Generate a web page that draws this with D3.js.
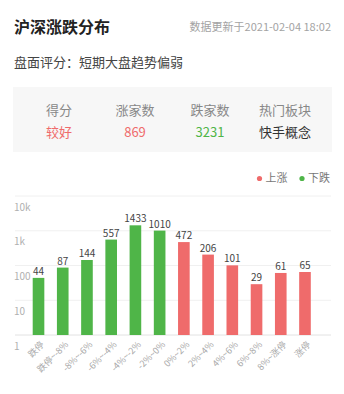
<!DOCTYPE html>
<html lang="zh">
<head>
<meta charset="utf-8"/>
<title>沪深涨跌分布</title>
<script src="https://d3js.org/d3.v7.min.js"></script>
<style>
  body { margin: 0; background: #fff; }
  svg { display: block; font-family: "Noto Sans CJK SC", "Noto Sans", sans-serif; }
</style>
</head>
<body>
<svg id="chart" width="344" height="394"></svg>
<script>
// data
var categories = ["跌停", "跌停~-8%", "-8%~-6%", "-6%~-4%", "-4%~-2%", "-2%~0%",
                  "0%~2%", "2%~4%", "4%~6%", "6%~8%", "8%~涨停", "涨停"];
var counts = [44, 87, 144, 557, 1433, 1010, 472, 206, 101, 29, 61, 65];
var trend = ["down", "down", "down", "down", "down", "down", "up", "up", "up", "up", "up", "up"];
var yTicks = [1, 10, 100, 1000, 10000];
var yTickLabels = ["1", "10", "100", "1k", "10k"];
var summaryHeads = ["得分", "涨家数", "跌家数", "热门板块"];
var summaryVals = ["较好", "869", "3231", "快手概念"];
var legendKeys = ["上涨", "下跌"];

var RED = "#ef6b6b", GREEN = "#4fb548";

var svg = d3.select("#chart");

// header
svg.append("text").attr("x", 14).attr("y", 33)
  .attr("font-size", 16).attr("font-weight", "bold").attr("fill", "#222")
  .text("沪深涨跌分布");
svg.append("text").attr("x", 331).attr("y", 31)
  .attr("font-size", 11).attr("fill", "#a3a3a3").attr("text-anchor", "end")
  .text("数据更新于2021-02-04 18:02");
svg.append("text").attr("x", 14).attr("y", 67)
  .attr("font-size", 13).attr("fill", "#444")
  .text("盘面评分：短期大盘趋势偏弱");

// summary box
svg.append("rect").attr("x", 13).attr("y", 87).attr("width", 319).attr("height", 65)
  .attr("fill", "#f7f7f7");
var colX = [59, 135, 210, 285];
var valColor = [RED, RED, GREEN, "#333"];
svg.selectAll(".head").data(summaryHeads).enter().append("text")
  .attr("x", function(d, i) { return colX[i]; }).attr("y", 115)
  .attr("text-anchor", "middle").attr("font-size", 13).attr("fill", "#888")
  .text(function(d) { return d; });
svg.selectAll(".val").data(summaryVals).enter().append("text")
  .attr("x", function(d, i) { return colX[i]; }).attr("y", 137)
  .attr("text-anchor", "middle").attr("font-size", 13)
  .attr("fill", function(d, i) { return valColor[i]; })
  .text(function(d) { return d; });

// legend
var legX = [259.5, 302];
var leg = svg.selectAll(".leg").data(legendKeys).enter().append("g")
  .attr("transform", function(d, i) { return "translate(" + legX[i] + ",178.5)"; });
leg.append("circle").attr("r", 2.6).attr("fill", function(d, i) { return i ? GREEN : RED; });
leg.append("text").attr("x", 6).attr("dy", "0.36em")
  .attr("font-size", 11).attr("fill", "#777").text(function(d) { return d; });

// chart
var x = d3.scaleBand().domain(categories).range([26.4, 317.1])
  .paddingInner(0.52).paddingOuter(0.26);
var y = d3.scaleLog().domain([1, 10000]).range([335, 196]);

var grid = svg.append("g");
grid.selectAll("line").data(yTicks).enter().append("line")
  .attr("x1", 15).attr("x2", 331)
  .attr("y1", function(d) { return y(d); }).attr("y2", function(d) { return y(d); })
  .attr("stroke", function(d) { return d === 1 ? "#e2e2e2" : "#f0f0f0"; })
  .attr("stroke-width", 1);
grid.selectAll("text").data(yTicks).enter().append("text")
  .attr("x", 14).attr("y", function(d) { return y(d) + 11; })
  .attr("dy", "0.35em").attr("font-size", 10).attr("fill", "#b0b0b0")
  .text(function(d, i) { return yTickLabels[i]; });

svg.append("g").selectAll("rect").data(counts).enter().append("rect")
  .attr("x", function(d, i) { return x(categories[i]); })
  .attr("width", x.bandwidth())
  .attr("y", function(d) { return y(d); })
  .attr("height", function(d) { return y(1) - y(d); })
  .attr("fill", function(d, i) { return trend[i] === "up" ? RED : GREEN; });

svg.append("g").selectAll("text").data(counts).enter().append("text")
  .attr("x", function(d, i) { return x(categories[i]) + x.bandwidth() / 2; })
  .attr("y", function(d) { return y(d) - 3; })
  .attr("text-anchor", "middle").attr("font-size", 10).attr("fill", "#444")
  .text(function(d) { return d; });

svg.append("g").selectAll("text").data(categories).enter().append("text")
  .attr("transform", function(d) {
    return "translate(" + (x(d) + x.bandwidth() / 2 + 4) + ",343) rotate(-45)";
  })
  .attr("text-anchor", "end").attr("dy", "0.35em")
  .attr("font-size", 9).attr("fill", "#a8a8a8")
  .text(function(d) { return d; });
</script>
</body>
</html>
